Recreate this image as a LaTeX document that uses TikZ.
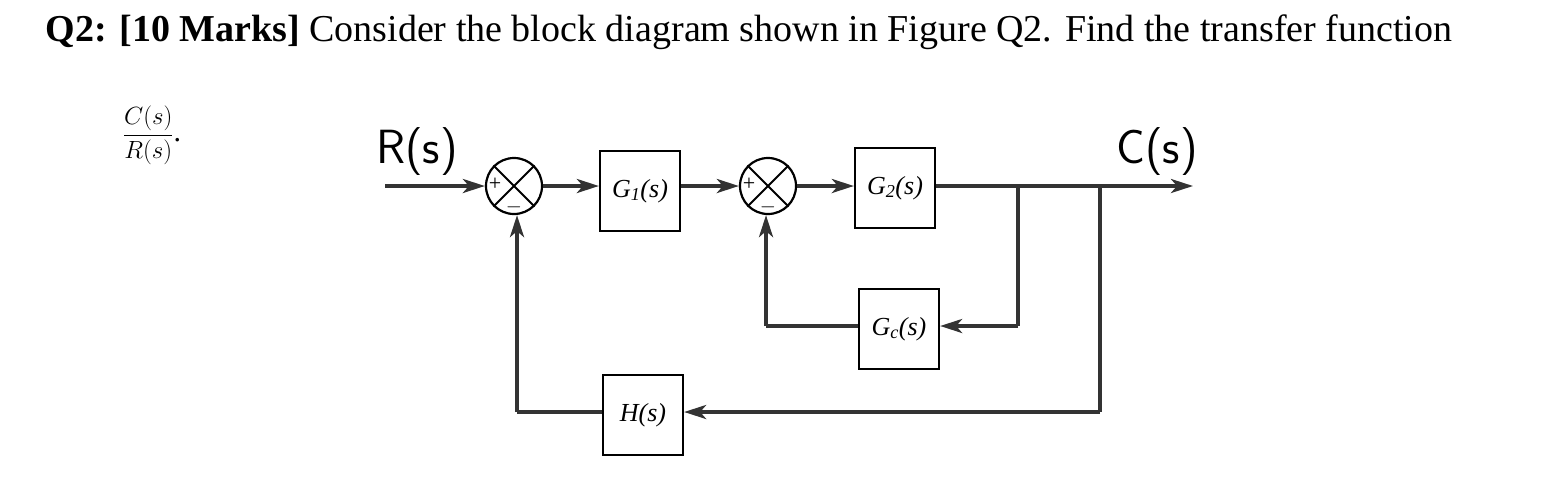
\documentclass[tikz,border=0pt]{standalone}
\usepackage{fontspec}
\setmainfont{Liberation Serif}
\usetikzlibrary{arrows.meta}
\begin{document}
\begin{tikzpicture}[x=1pt,y=-1pt,
  blk/.style={draw,line width=2.2pt,minimum width=80pt,minimum height=80pt,inner sep=0pt,font=\fontsize{26}{28}\selectfont\itshape},
  sum/.style={draw,circle,line width=2.2pt,minimum size=56pt,inner sep=0pt},
  sig/.style={line width=3.6pt,color=black!80,-{Stealth[length=22pt,width=14pt,inset=6pt]}},
  ln/.style={line width=3.6pt,color=black!80},
  hand/.style={font=\fontsize{48}{50}\sffamily}]
\useasboundingbox (0,0) rectangle (1563,483);
\node[anchor=west,font=\fontsize{38}{42}\selectfont] (title) at (42,32) {\textbf{Q2: [10 Marks]} Consider the block diagram shown in Figure Q2. Find the transfer function};
\node[font=\fontsize{30}{32}\selectfont] (frac) at (152,135) {$\displaystyle\frac{C(s)}{R(s)}$.};
\node[sum] (s1) at (514,186) {};
\draw[line width=1.8pt] (s1.north west)--(s1.south east) (s1.north east)--(s1.south west);
\node[font=\fontsize{22}{22}\selectfont] (p1) at (495,184) {+};
\node[font=\fontsize{22}{22}\selectfont] (m1) at (514,207) {$-$};
\node[blk] (g1) at (640,191) {G\textsubscript{1}(s)};
\node[sum] (s2) at (768,186) {};
\draw[line width=1.8pt] (s2.north west)--(s2.south east) (s2.north east)--(s2.south west);
\node[font=\fontsize{22}{22}\selectfont] (p2) at (749,184) {+};
\node[font=\fontsize{22}{22}\selectfont] (m2) at (768,207) {$-$};
\node[blk] (g2) at (895,188) {G\textsubscript{2}(s)};
\node[blk] (gc) at (899,329) {G\textsubscript{c}(s)};
\node[blk] (h) at (643,415) {H(s)};
\coordinate (in) at (385,186);
\coordinate (out) at (1193,186);
\coordinate (b1) at (1018,186);
\coordinate (b2) at (1100,186);
\coordinate (c1) at (1018,326);
\coordinate (c2) at (1100,412);
\coordinate (c3) at (766,326);
\coordinate (c4) at (517,412);
\draw[sig] (in)--(s1.west);
\draw[sig] (s1.east)--(g1.west|-s1.east);
\draw[sig] (g1.east|-s2.west)--(s2.west);
\draw[sig] (s2.east)--(g2.west|-s2.east);
\draw[sig] (g2.east|-out)--(out);
\draw[ln] (b1)--(c1); \draw[sig] (c1)--(gc.east|-c1);
\draw[ln] (b2)--(c2); \draw[sig] (c2)--(h.east|-c2);
\draw[ln] (gc.west|-c3)--(c3); \draw[sig] (c3)--(s2.south-|c3);
\draw[ln] (h.west|-c4)--(c4); \draw[sig] (c4)--(s1.south-|c4);
\node[hand] (r) at (417,152) {R(s)};
\node[hand] (c) at (1157,152) {C(s)};
\end{tikzpicture}
\end{document}
